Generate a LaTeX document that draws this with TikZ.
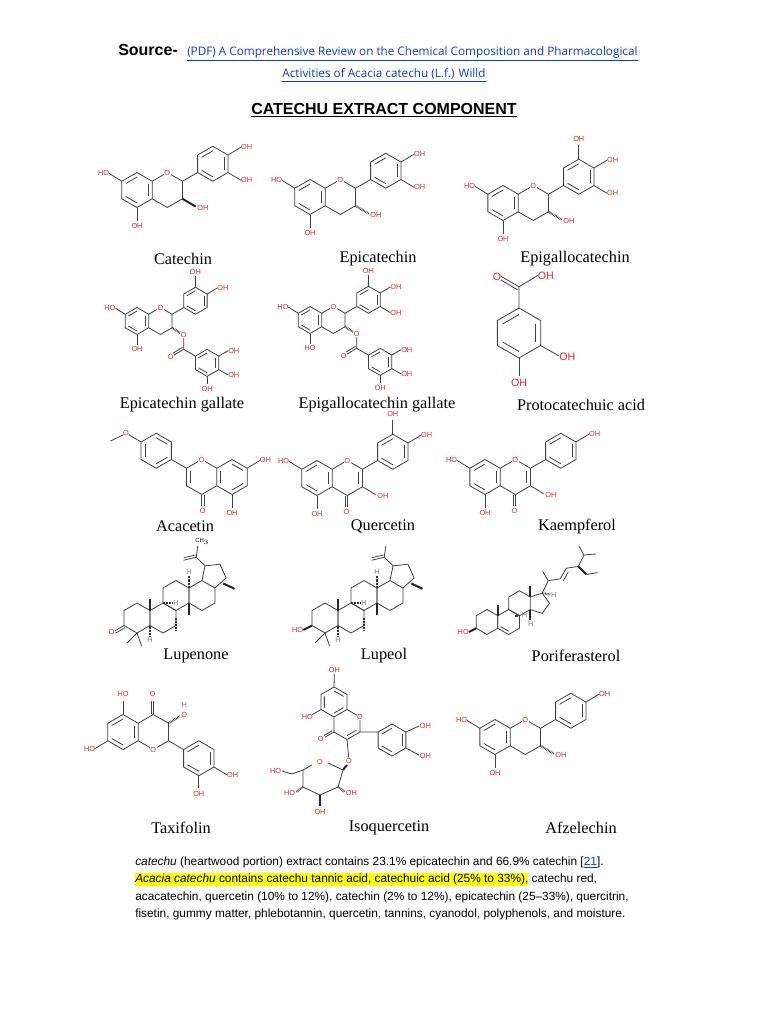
\documentclass[tikz,border=0pt]{standalone}
\usepackage{fontspec}
\setmainfont{Liberation Serif}
\newfontfamily\arial{Liberation Sans}
\newfontfamily\opens{Open Sans}
\usetikzlibrary{calc}
\definecolor{lnk}{RGB}{10,60,220}
\definecolor{hl}{RGB}{255,255,0}
\definecolor{atm}{RGB}{225,40,40}
\newcommand\hexat[1]{\draw[bd] (#1) +(30:1)--+(90:1)--+(150:1)--+(210:1)--+(270:1)--+(330:1)--cycle;}
\newcommand\dbb[3]{\draw[bd] ($(#1)+(#2:.74)$)--($(#1)+(#3:.74)$);}
\newcommand\arom[1]{\dbb{#1}{210}{270}\dbb{#1}{330}{30}\dbb{#1}{90}{150}}
\newcommand\flavancore{\hexat{0,0}\arom{0,0}
 \draw[bd] (.866,-.5)--(1.732,-1)--(2.598,-.5)--(2.598,.5)--(1.732,1)--(.866,.5);
 \node[ringo] at (1.732,-1) {O};
 \draw[bd] (2.598,-.5)--(3.464,-1); \hexat{4.33,-1.5}\arom{4.33,-1.5}}
\newcommand\flavonecore{\flavancore
 \dbb{1.732,0}{330}{30}
 \draw[bd] (1.732,1)--(1.732,1.65); \draw[bd] (1.602,1.05)--(1.602,1.65);
 \node[lab] at (1.68,1.95) {O};}
\newcommand\hoA{\draw[bd] (-.866,-.5)--(-1.6,-.95); \node[lab,anchor=east] at (-1.55,-.95) {HO};}
\newcommand\ohbottom[1]{\draw[bd] (0,1)--(0,1.75); \node[lab] at (0,2.05){#1};}
\newcommand\ohBtop{\draw[bd] (4.33,-2.5)--(4.33,-3.3); \node[lab] at (4.33,-3.65){OH};}
\newcommand\ohBur{\draw[bd] (5.196,-2)--(5.95,-2.45); \node[lab,anchor=west] at (5.9,-2.45){OH};}
\newcommand\ohBlr{\draw[bd] (5.196,-1)--(5.95,-.55); \node[lab,anchor=west] at (5.9,-.55){OH};}
\newcommand\gallate{\draw[hashb] (2.598,.5)--(3.3,.95); \node[ringo] at (3.46,1.05) {O};
 \draw[bd] (3.46,1.25)--(3.46,2.1)--(4.33,2.6); \draw[bd] (3.46,2.1)--(2.75,2.52); \draw[bd] (3.38,1.95)--(2.68,2.37);
 \node[lab] at (2.5,2.65){O};
 \hexat{5.196,3.1}\arom{5.196,3.1}
 \draw[bd] (6.06,2.6)--(6.75,2.2); \node[lab,anchor=west] at (6.7,2.2){OH};
 \draw[bd] (6.06,3.6)--(6.75,4.0); \node[lab,anchor=west] at (6.7,4.0){OH};
 \draw[bd] (5.196,4.1)--(5.196,4.7); \node[lab] at (5.196,5.0){OH};}
\tikzset{bd/.style={line width=0.6pt,black!75},
 hashb/.style={line width=1.6pt,dash pattern=on .5pt off .6pt,black!80},
 wedgeb/.style={line width=1.5pt,black!85},
 lab/.style={font=\arial\fontsize{5.5}{5.5}\selectfont,text=atm,inner sep=0.4pt},
 ringo/.style={lab,fill=white},
 hl/.style={font=\arial\fontsize{5.5}{5.5}\selectfont,text=black!50,inner sep=0.4pt},
 nm/.style={font=\fontsize{12.2}{13}\selectfont},
 para/.style={font=\arial\fontsize{8.9}{10}\selectfont,anchor=base west,inner sep=0}}
\begin{document}
\begin{tikzpicture}[x=0.75pt,y=-0.75pt]
\fill[white] (0,0) rectangle (768,1024);
\useasboundingbox (0,0) rectangle (768,1024);
% header
\node[anchor=base west,inner sep=0,font=\arial\bfseries\fontsize{12}{12}\selectfont] (src) at (118,56) {Source-};
\node[anchor=base west,inner sep=0,font=\opens\fontsize{8.8}{10}\selectfont,text=lnk] (l1) at (187,56) {\underline{(PDF) A Comprehensive Review on the Chemical Composition and Pharmacological}};
\node[anchor=base,inner sep=0,font=\opens\fontsize{8.8}{10}\selectfont,text=lnk] (l2) at (384,78) {\underline{Activities of Acacia catechu (L.f.) Willd}};
\node[anchor=base,inner sep=0,font=\arial\bfseries\fontsize{12}{12}\selectfont] (ttl) at (384,114) {\underline{CATECHU EXTRACT COMPONENT}};
% names
\node[nm] (n1) at (183,259) {Catechin};
\node[nm] (n2) at (378,259) {Epicatechin};
\node[nm] (n3) at (575,259) {Epigallocatechin};
\node[nm] (n4) at (182,405) {Epicatechin gallate};
\node[nm] (n5) at (377,405) {Epigallocatechin gallate};
\node[nm] (n6) at (581,405) {Protocatechuic acid};
\node[nm] (n7) at (185,526) {Acacetin};
\node[nm] (n8) at (383,526) {Quercetin};
\node[nm] (n9) at (577,526) {Kaempferol};
\node[nm] (n10) at (196,656) {Lupenone};
\node[nm] (n11) at (384,656) {Lupeol};
\node[nm] (n12) at (576,656) {Poriferasterol};
\node[nm] (n13) at (181,828) {Taxifolin};
\node[nm] (n14) at (389,828) {Isoquercetin};
\node[nm] (n15) at (581,828) {Afzelechin};
% Catechin
\begin{scope}[shift={(137,190)},scale=17.5]
\flavancore\hoA\ohbottom{OH}\ohBur\ohBlr
\draw[wedgeb] (2.598,.5)--(3.35,.95); \node[lab,anchor=west] at (3.4,1){OH};
\end{scope}
% Epicatechin
\begin{scope}[shift={(310,197)},scale=17.5]
\flavancore\hoA\ohbottom{OH}\ohBur\ohBlr
\draw[hashb] (2.598,.5)--(3.35,.95); \node[lab,anchor=west] at (3.4,1){OH};
\end{scope}
% Epigallocatechin
\begin{scope}[shift={(503,203)},scale=17.5]
\flavancore\hoA\ohbottom{OH}\ohBtop\ohBur\ohBlr
\draw[hashb] (2.598,.5)--(3.35,.95); \node[lab,anchor=west] at (3.4,1){OH};
\end{scope}
% ECG
\begin{scope}[shift={(137,321)},scale=13.5]
\flavancore\hoA\ohbottom{OH}\ohBtop\ohBur\gallate
\end{scope}
% EGCG
\begin{scope}[shift={(310,320)},scale=13.5]
\flavancore\hoA\ohbottom{HO}\ohBtop\ohBur\ohBlr\gallate
\end{scope}
% Protocatechuic acid
\begin{scope}[shift={(519,333)},scale=25]
\hexat{0,0}\arom{0,0}
\draw[bd] (0,-1)--(0,-1.85)--(.75,-2.3); \node[lab,anchor=west,font=\arial\fontsize{8}{8}\selectfont] at (.72,-2.3){OH};
\draw[bd] (0,-1.85)--(-.72,-2.27); \draw[bd] (-.06,-1.73)--(-.72,-2.12);
\node[lab,font=\arial\fontsize{8}{8}\selectfont] at (-.88,-2.25){O};
\draw[bd] (.866,.5)--(1.6,.92); \node[lab,anchor=west,font=\arial\fontsize{8}{8}\selectfont] at (1.58,.95){OH};
\draw[bd] (0,1)--(0,1.7); \node[lab,font=\arial\fontsize{8}{8}\selectfont] at (0,1.98){OH};
\end{scope}
% Acacetin (mirrored)
\begin{scope}[shift={(232,477)},xscale=-17.5,yscale=17.5]
\flavonecore
\draw[bd] (-.866,-.5)--(-1.6,-.95); \node[lab,anchor=west] at (-1.55,-.95) {OH};
\ohbottom{OH}
\draw[bd] (5.196,-2)--(5.9,-2.42); \node[ringo] at (6.06,-2.5){O}; \draw[bd] (6.2,-2.42)--(6.95,-2.05);
\end{scope}
% Quercetin
\begin{scope}[shift={(317,478)},scale=17.5]
\flavonecore\hoA\ohbottom{OH}\ohBtop\ohBur
\draw[bd] (2.598,.5)--(3.35,.95); \node[lab,anchor=west] at (3.4,1){OH};
\end{scope}
% Kaempferol
\begin{scope}[shift={(485,477)},scale=17.5]
\flavonecore\hoA\ohbottom{OH}\ohBur
\draw[bd] (2.598,.5)--(3.35,.95); \node[lab,anchor=west] at (3.4,1){OH};
\end{scope}
% Lupenone & Lupeol
\foreach \px/\isone in {137/1,325/0}{
\begin{scope}[shift={(\px,618)},scale=15]
\hexat{0,0}\hexat{1.732,0}\hexat{2.598,-1.5}\hexat{4.33,-1.5}
\draw[bd] (5.107,-2.846)+(84:.851)--+(12:.851)--+(300:.851)--+(228:.851)--+(156:.851);
\draw[bd] (4.54,-3.48)--(3.95,-4.05)--(3.1,-3.85); \draw[bd] (3.9,-4.2)--(3.12,-4.02);
\draw[bd] (3.95,-4.05)--(4.05,-4.8);
\draw[wedgeb] (.866,-.5)--(.866,-1.3);
\draw[wedgeb] (3.464,-1)--(3.464,-.2);
\draw[hashb] (1.732,-1)--(2.35,-1.0); \node[hl] at (2.6,-1.0){H};
\draw[hashb] (3.464,-2)--(3.464,-2.8); \node[hl] at (3.464,-3.05){H};
\draw[hashb] (2.598,0)--(2.598,.8);
\draw[hashb] (.866,.5)--(.866,1.2); \node[hl] at (.866,1.45){H};
\draw[wedgeb] (5.75,-2.3)--(6.5,-1.95);
\draw[bd] (0,1)--(-.65,1.65); \draw[bd] (0,1)--(.3,1.85);
\ifnum\isone=1
 \node[font=\arial\fontsize{4.5}{4.5}\selectfont,inner sep=0] at (4.35,-5.1){CH$_3$};
 \draw[bd] (-.866,.5)--(-1.5,.87); \draw[bd] (-.8,.65)--(-1.42,1.0); \node[lab] at (-1.7,.95){O};
\else
 \draw[wedgeb] (-.866,.5)--(-1.45,.8); \node[lab,anchor=east] at (-1.4,.82){HO};
\fi
\end{scope}}
% Poriferasterol
\begin{scope}[shift={(487,622)},scale=12.5]
\hexat{0,0}\hexat{1.732,0}\hexat{2.598,-1.5}
\draw[bd] (4.152,-1.5)+(144:.851)--+(72:.851)--+(0:.851)--+(288:.851)--+(216:.851);
\dbb{1.732,0}{90}{150}
\draw[wedgeb] (-.866,.5)--(-1.45,.8); \node[lab,anchor=east] at (-1.4,.82){HO};
\draw[wedgeb] (.866,-.5)--(.866,-1.35);
\draw[wedgeb] (3.464,-2)--(3.464,-2.85);
\draw[hashb] (2.598,-.5)--(2.2,-.5); \node[hl] at (3.0,-.55){H};
\draw[wedgeb] (3.464,-1)--(3.464,-.2); \node[hl] at (3.5,.15){H};
\draw[hashb] (4.415,-2.31)--(5.1,-2.2); \node[hl] at (5.35,-2.2){H};
\draw[bd] (4.415,-2.31)--(4.9,-3.3)--(4.45,-4.05);
\draw[bd] (4.9,-3.3)--(5.85,-3.45)--(6.35,-4.3)--(7.3,-4.45)--(7.75,-5.35)--(7.35,-6.1);
\draw[bd] (6.1,-3.3)--(6.5,-4.0);
\draw[bd] (7.75,-5.35)--(8.7,-5.45);
\draw[wedgeb] (7.3,-4.45)--(7.95,-3.8); \draw[bd] (7.95,-3.8)--(8.85,-3.95);
\end{scope}
% Taxifolin (flipped)
\begin{scope}[shift={(123,732)},xscale=17.5,yscale=-17.5]
\flavancore
\draw[bd] (1.732,1)--(1.732,1.8); \draw[bd] (1.602,1.05)--(1.602,1.8); \node[lab] at (1.68,2.15){O};
\draw[bd] (-.866,-.5)--(-1.6,-.95); \node[lab,anchor=east] at (-1.55,-.95) {HO};
\draw[bd] (0,1)--(0,1.8); \node[lab] at (0,2.15){HO};
\draw[hashb] (2.598,.5)--(3.25,.9); \node[lab] at (3.5,1.0){O}; \node[hl] at (3.5,1.55){H};
\draw[bd] (5.196,-2)--(5.95,-2.45); \node[lab,anchor=west] at (5.9,-2.45){OH};
\draw[bd] (4.33,-2.5)--(4.33,-3.2); \node[lab] at (4.33,-3.55){OH};
\end{scope}
% Isoquercetin
\begin{scope}[shift={(334,702)},rotate=-60,scale=15]
\hexat{0,0}\arom{0,0}
\draw[bd] (.866,-.5)--(1.732,-1)--(2.598,-.5)--(2.598,.5)--(1.732,1)--(.866,.5);
\dbb{1.732,0}{330}{30}
\node[ringo] at (1.732,-1) {O};
\draw[bd] (1.732,1)--(1.732,1.7); \draw[bd] (1.602,1.05)--(1.602,1.7); \node[lab] at (1.68,2.0){O};
\draw[bd] (-.866,-.5)--(-1.6,-.95); \node[lab] at (-1.85,-1.1) {OH};
\draw[bd] (0,1)--(0,1.7); \node[lab] at (0,2.05){HO};
\coordinate (iqc2) at (2.598,-.5);
\coordinate (iqc3) at (2.598,.5);
\end{scope}
\begin{scope}[shift={(392,740)},scale=16]
\hexat{0,0}\arom{0,0}
\coordinate (iqb) at (210:1);
\end{scope}
\draw[bd] (iqc2)--(iqb);
\draw[bd] (405.9,732)--(419,726); \node[lab,anchor=west] at (419,726){OH};
\draw[bd] (405.9,748)--(419,755); \node[lab,anchor=west] at (419,756){OH};
\node[ringo] (og) at (349,761){O};
\draw[bd] (iqc3)--(og);
\draw[wedgeb] (343,770)--(347,765);
\draw[bd] (343,770)--(338,787)--(320,795)--(303,787)--(303,770)--(312,765);
\draw[bd] (328,763)--(343,770);
\node[ringo] at (320,762){O};
\draw[bd] (303,770)--(292,774)--(282,771); \node[lab,anchor=east] at (282,771){HO};
\draw[hashb] (303,787)--(296,792); \node[lab,anchor=east] at (296,793){HO};
\draw[hashb] (338,787)--(345,792); \node[lab,anchor=west] at (345,793){OH};
\draw[wedgeb] (320,795)--(320,806); \node[lab] at (320,812){OH};
% Afzelechin
\begin{scope}[shift={(495,737)},scale=17.5]
\flavancore\hoA\ohbottom{OH}\ohBur
\draw[hashb] (2.598,.5)--(3.35,.95); \node[lab,anchor=west] at (3.4,1){OH};
\end{scope}
% paragraph
\node[para] (p1) at (135,865) {\textit{catechu} (heartwood portion) extract contains 23.1\% epicatechin and 66.9\% catechin [\textcolor{lnk}{\underline{21}}].};
\node[para] (p2) at (135,882) {{\fboxsep=0pt\colorbox{hl}{\strut\textit{Acacia catechu} contains catechu tannic acid, catechuic acid (25\% to 33\%),}} catechu red,};
\node[para] (p3) at (135,900) {acacatechin, quercetin (10\% to 12\%), catechin (2\% to 12\%), epicatechin (25–33\%), quercitrin,};
\node[para] (p4) at (135,917) {fisetin, gummy matter, phlebotannin, quercetin, tannins, cyanodol, polyphenols, and moisture.};
\end{tikzpicture}
\end{document}
